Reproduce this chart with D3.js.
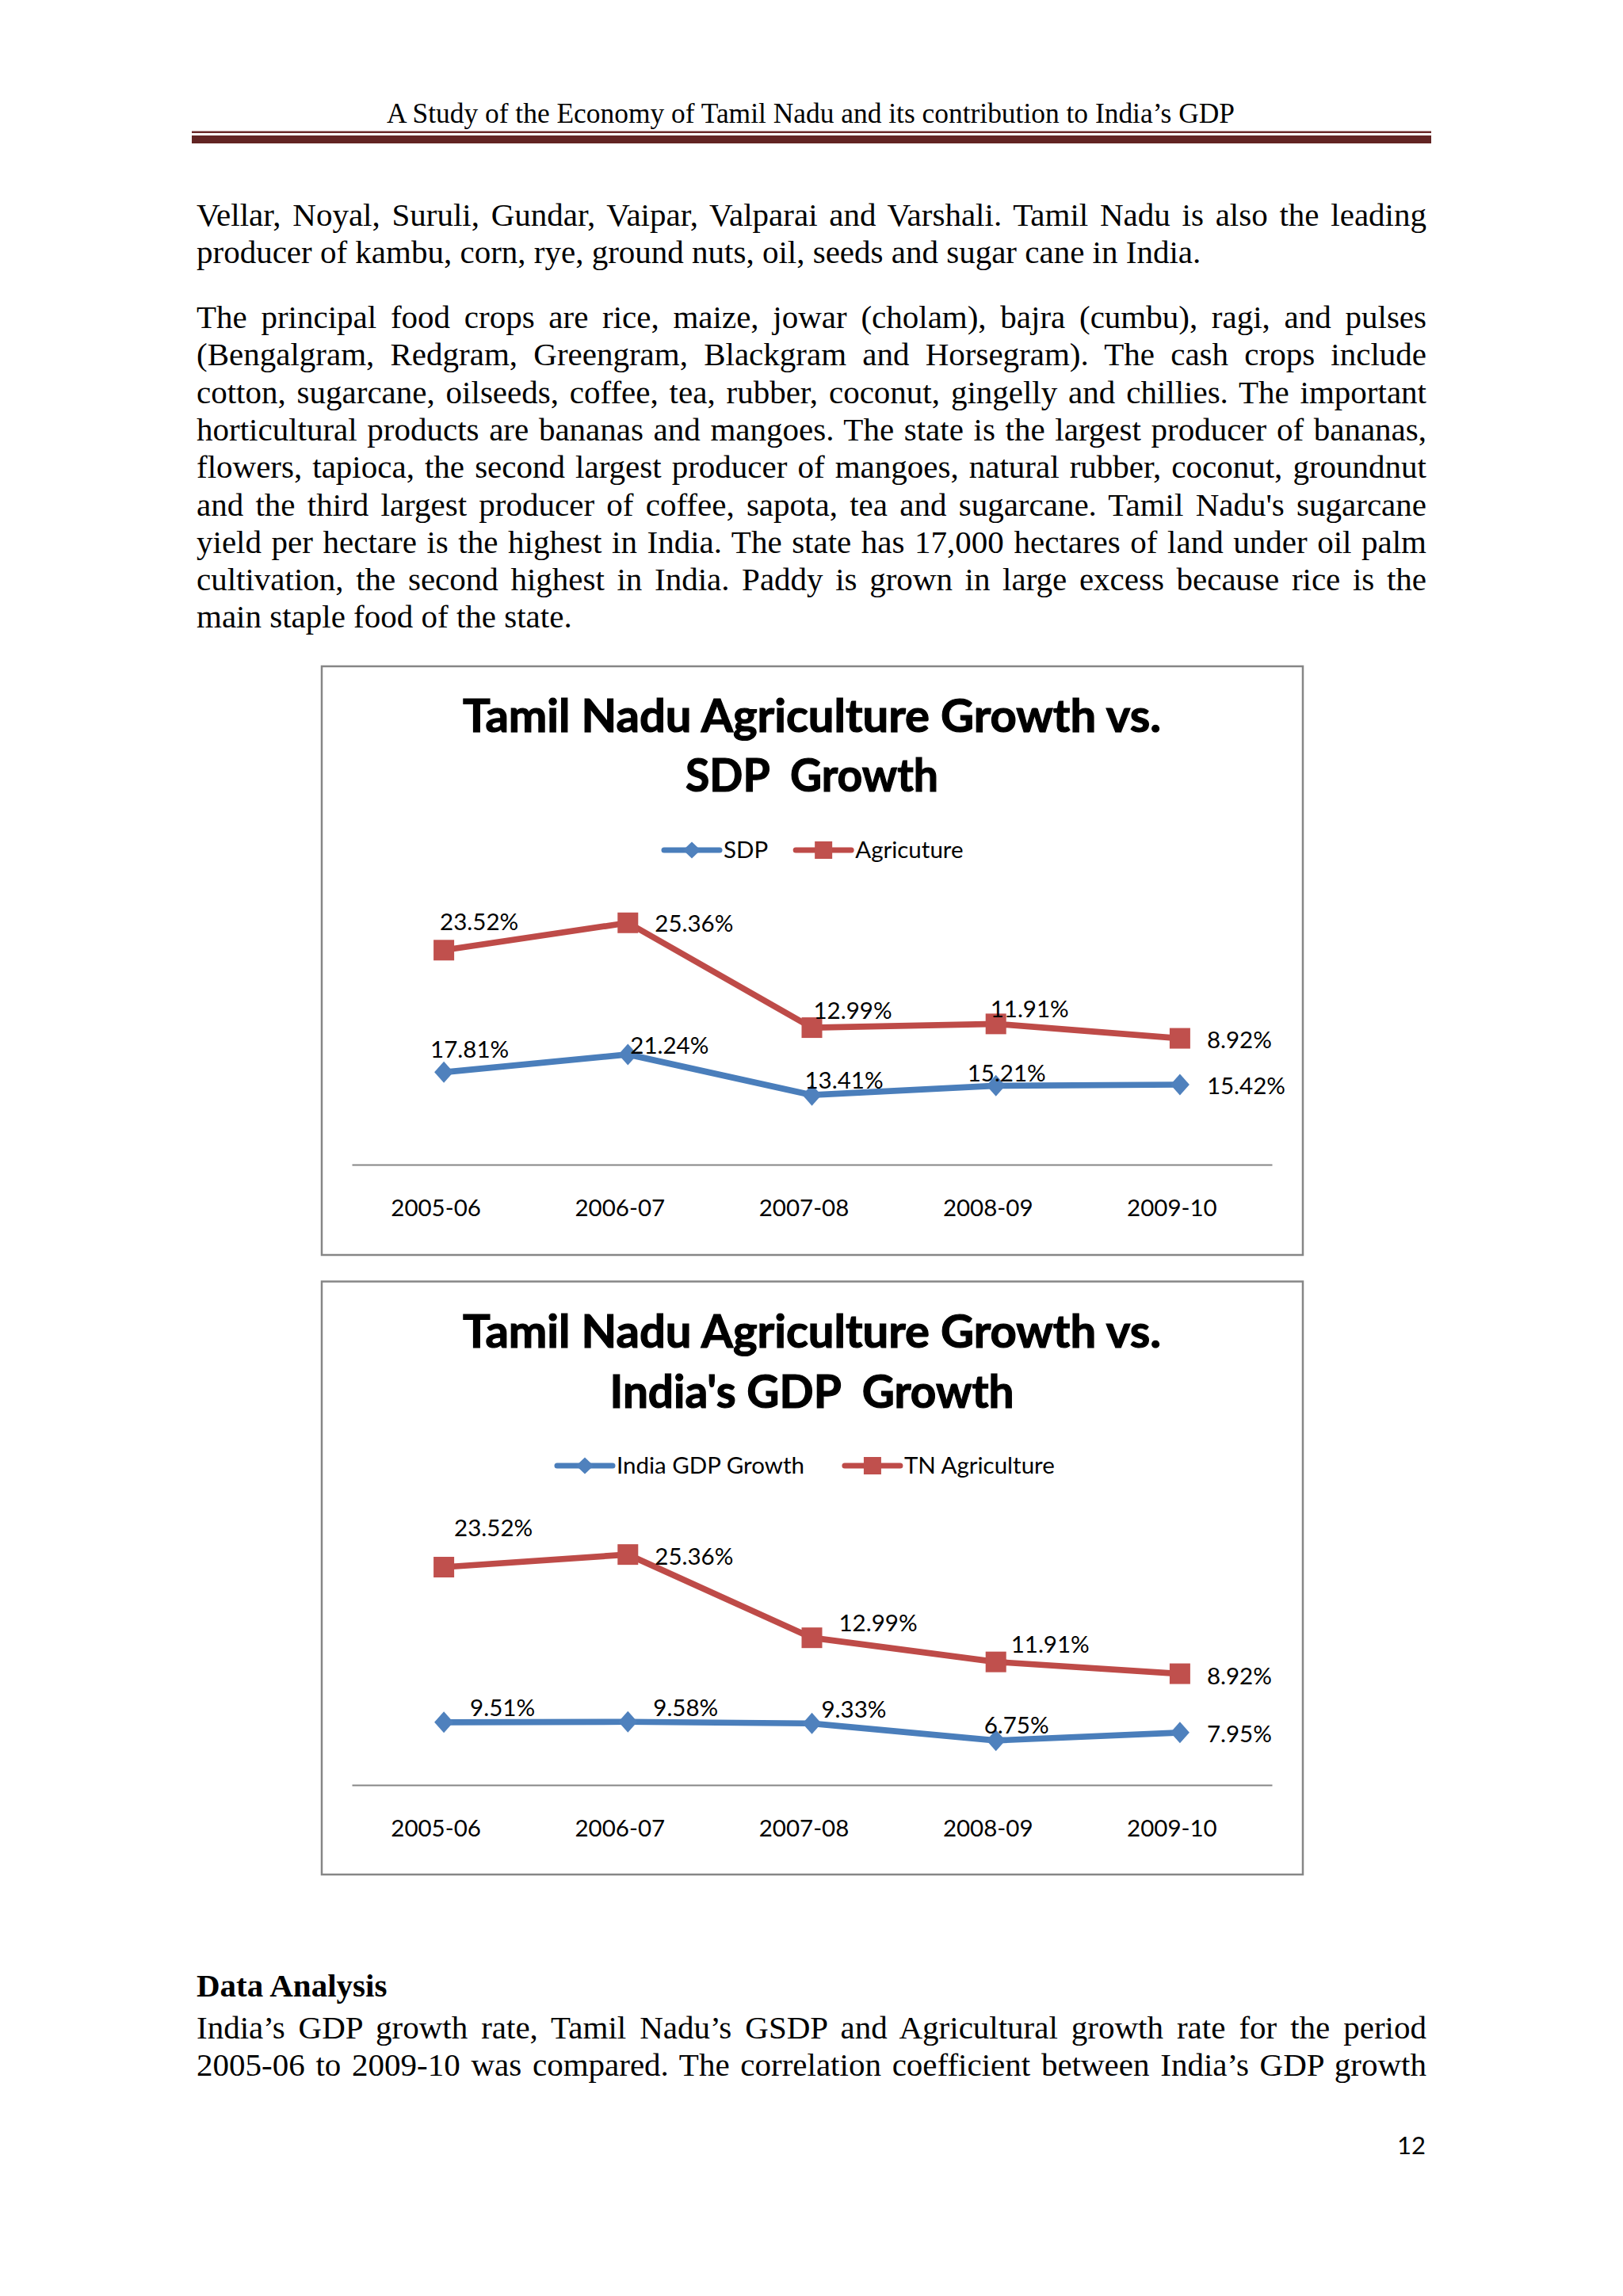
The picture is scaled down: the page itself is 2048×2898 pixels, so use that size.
<!DOCTYPE html>
<html>
<head>
<meta charset="utf-8">
<script src="https://cdn.jsdelivr.net/npm/d3@7"></script>
<style>
html, body { margin: 0; padding: 0; background: #fff; }
svg { display: block; }
</style>
</head>
<body>
<script>
// ---- chart data ----
var years = ["2005-06", "2006-07", "2007-08", "2008-09", "2009-10"];
var sdpGrowth = [17.81, 21.24, 13.41, 15.21, 15.42];
var agriGrowth = [23.52, 25.36, 12.99, 11.91, 8.92];
var indiaGdpGrowth = [9.51, 9.58, 9.33, 6.75, 7.95];

var chart1Title = ["Tamil Nadu Agriculture Growth vs.", "SDP  Growth"];
var chart2Title = ["Tamil Nadu Agriculture Growth vs.", "India's GDP  Growth"];
var chart1Names = ["SDP", "Agricuture"];
var chart2Names = ["India GDP Growth", "TN Agriculture"];

// ---- page text ----
var headerText = "A Study of the Economy of Tamil Nadu and its contribution to India\u2019s GDP";
var para1 = [
  "Vellar, Noyal, Suruli, Gundar, Vaipar, Valparai and Varshali. Tamil Nadu is also the leading",
  "producer of kambu, corn, rye, ground nuts, oil, seeds and sugar cane in India."
];
var para2 = [
  "The principal food crops are rice, maize, jowar (cholam), bajra (cumbu), ragi, and pulses",
  "(Bengalgram, Redgram, Greengram, Blackgram and Horsegram). The cash crops include",
  "cotton, sugarcane, oilseeds, coffee, tea, rubber, coconut, gingelly and chillies. The important",
  "horticultural products are bananas and mangoes. The state is the largest producer of bananas,",
  "flowers, tapioca, the second largest producer of mangoes, natural rubber, coconut, groundnut",
  "and the third largest producer of coffee, sapota, tea and sugarcane. Tamil Nadu's sugarcane",
  "yield per hectare is the highest in India. The state has 17,000 hectares of land under oil palm",
  "cultivation, the second highest in India. Paddy is grown in large excess because rice is the",
  "main staple food of the state."
];
var heading = "Data Analysis";
var para3 = [
  "India\u2019s GDP growth rate, Tamil Nadu\u2019s GSDP and Agricultural growth rate for the period",
  "2005-06 to 2009-10 was compared. The correlation coefficient between India\u2019s GDP growth"
];
var pageNo = "12";

var W = 2048, H = 2898;
var serif = "'Liberation Serif', 'Times New Roman', serif";
var sans = "Lato, 'Noto Sans', sans-serif";
var blue = "#4A7EBB", blueMark = "#4F81BD", red = "#BE4B48", redMark = "#C0504D";

var svg = d3.select("body").append("svg")
  .attr("width", W)
  .attr("height", H);

svg.append("rect").attr("width", W).attr("height", H).attr("fill", "#fff");

// header
svg.append("text")
  .attr("x", 1023).attr("y", 155)
  .attr("text-anchor", "middle")
  .attr("textLength", 1070).attr("lengthAdjust", "spacingAndGlyphs")
  .style("font-family", serif).style("font-size", "35px")
  .text(headerText);
svg.append("rect").attr("x", 242).attr("y", 165.5).attr("width", 1564).attr("height", 2.5).attr("fill", "#6a2828");
svg.append("rect").attr("x", 242).attr("y", 171).attr("width", 1564).attr("height", 10).attr("fill", "#622423");

// body text, justified with word-spacing
var textLeft = 248, textWidth = 1552, lineH = 47.3;

function bodyLine(str, y, justify, bold) {
  var t = svg.append("text")
    .attr("x", textLeft).attr("y", y)
    .style("font-family", serif)
    .style("font-size", "41px")
    .style("font-weight", bold ? "bold" : "normal")
    .style("white-space", "pre")
    .text(str);
  if (justify) {
    var natural = t.node().getComputedTextLength();
    var spaces = (str.match(/ /g) || []).length;
    if (spaces) t.style("word-spacing", ((textWidth - natural) / spaces) + "px");
  }
}

para1.forEach(function(s, i) { bodyLine(s, 285 + i * lineH, i < para1.length - 1); });
para2.forEach(function(s, i) { bodyLine(s, 414 + i * lineH, i < para2.length - 1); });
bodyLine(heading, 2520, false, true);
para3.forEach(function(s, i) { bodyLine(s, 2572.5 + i * lineH, true); });

svg.append("text")
  .attr("x", 1799).attr("y", 2719)
  .attr("text-anchor", "end")
  .style("font-family", sans).style("font-size", "31px")
  .text(pageNo);

// ---- charts ----
function diamond(w, h) {
  return "M0," + (-h) + "L" + w + ",0L0," + h + "L" + (-w) + ",0Z";
}

function marker(sel, kind, big) {
  if (kind === "diamond") {
    sel.append("path")
      .attr("d", big ? diamond(12, 13.5) : diamond(11, 10.5))
      .attr("fill", blueMark);
  } else {
    var s = big ? 26 : 22;
    sel.append("rect")
      .attr("x", -s / 2).attr("y", -s / 2)
      .attr("width", s).attr("height", s)
      .attr("fill", redMark);
  }
}

function drawChart(cfg) {
  var g = svg.append("g");

  g.append("rect")
    .attr("x", cfg.box[0]).attr("y", cfg.box[1])
    .attr("width", cfg.box[2]).attr("height", cfg.box[3])
    .attr("fill", "#fff").attr("stroke", "#868686").attr("stroke-width", 2.5);

  // title
  g.selectAll(".title").data(cfg.title).enter().append("text")
    .attr("class", "title")
    .attr("x", 1024.5)
    .attr("y", function(d, i) { return cfg.titleY[i]; })
    .attr("text-anchor", "middle")
    .attr("textLength", function(d, i) { return cfg.titleW[i]; })
    .attr("lengthAdjust", "spacingAndGlyphs")
    .attr("stroke", "#000").attr("stroke-width", 1.2)
    .style("font-family", sans).style("font-weight", "bold").style("font-size", "57px")
    .style("white-space", "pre")
    .text(function(d) { return d; });

  // legend
  var lx = cfg.legendX;
  var kinds = ["diamond", "square"];
  var colors = [blue, red];
  cfg.names.forEach(function(name, i) {
    var item = g.append("g");
    item.append("line")
      .attr("x1", lx).attr("x2", lx + 70)
      .attr("y1", cfg.legendY).attr("y2", cfg.legendY)
      .attr("stroke", colors[i]).attr("stroke-width", 7).attr("stroke-linecap", "round");
    marker(item.append("g").attr("transform", "translate(" + (lx + 35) + "," + cfg.legendY + ")"), kinds[i], false);
    var t = item.append("text")
      .attr("x", lx + 75).attr("y", cfg.legendY + 10)
      .style("font-family", sans).style("font-size", "29.5px")
      .text(name);
    lx = lx + 75 + t.node().getComputedTextLength() + cfg.legendGap;
  });

  // scales
  var x = d3.scaleBand().domain(years).range([cfg.plot.left, cfg.plot.right]);
  var y = d3.scaleLinear().domain([0, cfg.yMax]).range([cfg.plot.bottom, cfg.plot.top]);
  var cx = function(d, i) { return x(years[i]) + x.bandwidth() / 2; };

  // stacked line chart
  var rows = years.map(function(yr, i) {
    return { a: cfg.values[0][i], b: cfg.values[1][i] };
  });
  var layers = d3.stack().keys(["a", "b"])(rows);

  // category axis
  var axis = g.append("g")
    .attr("transform", "translate(0," + cfg.plot.bottom + ")")
    .call(d3.axisBottom(x).tickSize(0).tickSizeOuter(0).tickPadding(44));
  axis.select(".domain").attr("stroke", "#868686").attr("stroke-width", 2);
  axis.selectAll("text")
    .attr("dx", -10)
    .style("font-family", sans).style("font-size", "29.5px").attr("fill", "#000");

  var line = d3.line()
    .x(cx)
    .y(function(d) { return y(d[1]); });

  layers.forEach(function(layer, k) {
    g.append("path")
      .datum(layer)
      .attr("d", line)
      .attr("fill", "none")
      .attr("stroke", colors[k])
      .attr("stroke-width", 7.7)
      .attr("stroke-linejoin", "round")
      .attr("stroke-linecap", "round");

    g.selectAll(".m" + k).data(layer).enter().append("g")
      .attr("class", "m" + k)
      .attr("transform", function(d, i) { return "translate(" + cx(d, i) + "," + y(d[1]) + ")"; })
      .each(function() { marker(d3.select(this), kinds[k], true); });
  });

  // data labels
  layers.forEach(function(layer, k) {
    g.selectAll(".lab" + k).data(layer).enter().append("text")
      .attr("class", "lab" + k)
      .attr("x", function(d, i) { return cx(d, i) + cfg.labelOff[k][i][0]; })
      .attr("y", function(d, i) { return y(d[1]) + cfg.labelOff[k][i][1]; })
      .attr("dy", "0.36em")
      .style("font-family", sans).style("font-size", "29.5px")
      .text(function(d, i) { return d3.format(".2f")(cfg.values[k][i]) + "%"; });
  });
}

drawChart({
  box: [406, 841, 1238, 743],
  title: chart1Title,
  titleY: [924, 999],
  titleW: [881, 319],
  names: chart1Names,
  legendX: 838, legendY: 1073, legendGap: 35,
  plot: { left: 444, right: 1605, top: 1142.5, bottom: 1470 },
  yMax: 50,
  values: [sdpGrowth, agriGrowth],
  labelOff: [
    [[-17, -29], [3, -11], [-9, -19], [-36, -16], [34, 1.5]],
    [[-5, -36], [34, 1], [2, -22], [-7, -19], [34, 2]]
  ]
});

drawChart({
  box: [406, 1617.5, 1238, 748.5],
  title: chart2Title,
  titleY: [1701, 1777],
  titleW: [881, 510],
  names: chart2Names,
  legendX: 703, legendY: 1850, legendGap: 51,
  plot: { left: 444, right: 1605, top: 1920, bottom: 2253 },
  yMax: 40,
  values: [indiaGdpGrowth, agriGrowth],
  labelOff: [
    [[33, -18], [32, -17.5], [12, -18], [-15, -19], [34, 1.5]],
    [[13, -50], [34, 2.5], [34, -18.5], [19, -22.5], [34, 2.5]]
  ]
});
</script>
</body>
</html>
